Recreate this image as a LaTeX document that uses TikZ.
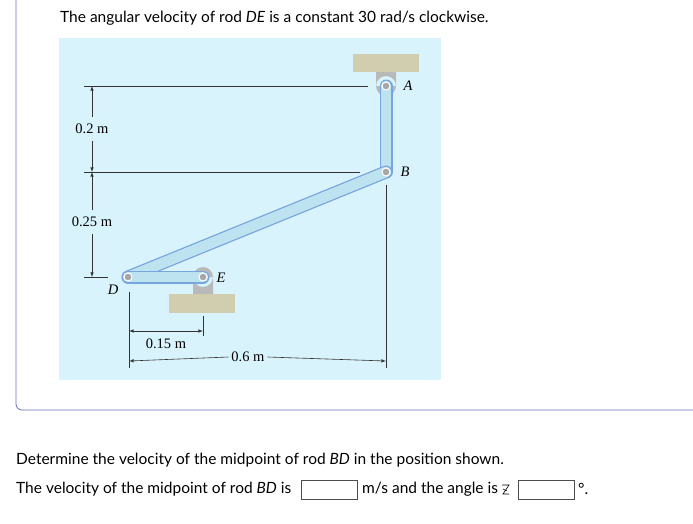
\documentclass[tikz,border=0pt]{standalone}
\usepackage{fontspec}
\setmainfont{Liberation Serif}
\newfontfamily\uisans{Lato}
\begin{document}
\begin{tikzpicture}[x=1pt,y=-1pt,
  dim/.style={black!80,line width=0.6pt},
  arr/.style={dim,-latex},
  lbl/.style={font=\fontsize{14.5}{16}\selectfont,inner sep=1pt},
  ilbl/.style={font=\itshape\fontsize{14.5}{16}\selectfont,inner sep=1pt},
  ui/.style={font=\uisans\fontsize{15.5}{18}\selectfont,anchor=west,inner sep=0pt},
  ground/.style={fill=brown!25!yellow!30!gray!50,draw=none},
  pin/.style={circle,fill=gray!70,draw=white,line width=1pt,minimum size=8pt,inner sep=0pt},
  ansbox/.style={draw=black!70,minimum width=56pt,minimum height=19pt,inner sep=0pt,anchor=west}]
\useasboundingbox (0,0) rectangle (693,523);
% frame
\draw[blue!45!gray!80,line width=0.8pt,rounded corners=6pt] (16,-5) -- (16,410) -- (700,410);
\node[ui] (t1) at (60,18) {The angular velocity of rod \textit{DE} is a constant 30 rad/s clockwise.};
% panel
\fill[cyan!15] (59,38) rectangle (441,380);
% coordinates
\coordinate (A) at (386,86);
\coordinate (B) at (386,172);
\coordinate (D) at (128,277);
\coordinate (E) at (203,277);
% supports
\fill[ground] (353,54) rectangle (419,72);
\fill[gray!55] (376,72) rectangle (396,86) (A) circle (10);
\fill[ground] (169,294) rectangle (235,313);
\fill[gray!55] (193,277) rectangle (213,294) (E) circle (10);
% dimension lines
\draw[dim] (84,86) -- (368,86);
\draw[dim] (84,172) -- (360,172);
\draw[dim] (84,277) -- (108,277);
\draw[arr] (92,117) -- (92,86);
\draw[arr] (92,141) -- (92,172);
\node[lbl] (d1) at (92,129) {0.2 m};
\draw[arr] (92,210) -- (92,172);
\draw[arr] (92,234) -- (92,277);
\node[lbl] (d2) at (92,222) {0.25 m};
\draw[dim] (129,292) -- (129,368);
\draw[dim] (203,316) -- (203,336);
\draw[dim] (386,185) -- (386,368);
\draw[dim,latex-latex] (129,331) -- (203,331);
\node[lbl] (d3) at (166,344) {0.15 m};
\node[lbl,fill=cyan!15,inner sep=3pt] (d4) at (248,357) {0.6 m};
\draw[arr] (d4.west) -- (129,361);
\draw[arr] (d4.east) -- (386,361);
% rods
\foreach \p/\q in {A/B,B/D,D/E}{
  \draw[cyan!55!blue!55,line width=13pt,line cap=round] (\p) -- (\q);
  \draw[cyan!25!white!90!gray,line width=10.5pt,line cap=round] (\p) -- (\q);
}
\foreach \p in {A,B,D,E}{\node[pin] (p\p) at (\p) {};}
\node[ilbl] (lA) at (408,86) {A};
\node[ilbl] (lB) at (405,172) {B};
\node[ilbl] (lD) at (113,290) {D};
\node[ilbl] (lE) at (221,278) {E};
% questions
\node[ui] (q1) at (16,460) {Determine the velocity of the midpoint of rod \textit{BD} in the position shown.};
\node[ui] (q2) at (16,489) {The velocity of the midpoint of rod \textit{BD} is};
\node[ansbox] (b1) at (301,490) {};
\node[ui] (q3) at (362,489) {m/s and the angle is};
\draw[line width=0.6pt] (502,485) -- (509,485) -- (503,494) -- (509,494) (503,489) -- (507,491);
\node[ansbox] (b2) at (518,490) {};
\node[ui] (q4) at (578,489) {°.};
\end{tikzpicture}
\end{document}
